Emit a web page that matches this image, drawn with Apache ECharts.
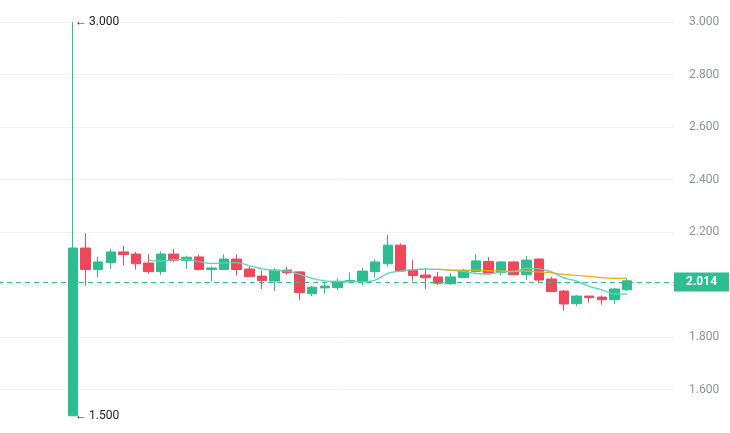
<!DOCTYPE html>
<html><head><meta charset="utf-8">
<script src="https://cdn.jsdelivr.net/npm/echarts@6/dist/echarts.min.js"></script>
<style>html,body{margin:0;padding:0;background:#fff}#c{width:730px;height:433px}</style>
</head><body><div id="c"></div>
<script>
const categories = Array.from({length: 45}, (_, i) => String(i + 1));
const opens  = [1.500,2.139,2.057,2.083,2.124,2.116,2.082,2.049,2.116,2.092,2.105,2.057,2.057,2.097,2.059,2.032,2.013,2.055,2.048,1.965,1.987,1.988,2.010,2.010,2.049,2.079,2.150,2.054,2.036,2.029,2.003,2.026,2.049,2.088,2.046,2.086,2.037,2.097,2.021,1.975,1.927,1.956,1.952,1.942,1.980];
const closes = [2.139,2.057,2.086,2.124,2.114,2.079,2.049,2.116,2.092,2.104,2.057,2.063,2.097,2.057,2.030,2.015,2.055,2.045,1.969,1.990,1.994,2.012,2.015,2.051,2.086,2.150,2.051,2.034,2.026,2.005,2.029,2.053,2.090,2.043,2.086,2.037,2.093,2.017,1.973,1.926,1.956,1.950,1.942,1.983,2.014];
const lows   = [1.500,1.995,2.027,2.059,2.073,2.057,2.041,2.037,2.086,2.059,2.054,2.011,2.057,2.034,2.030,1.983,1.974,2.037,1.941,1.956,1.964,1.979,2.010,1.998,2.026,2.068,2.051,2.013,1.983,1.998,1.999,2.026,2.045,2.039,2.035,2.037,2.017,2.005,1.973,1.900,1.917,1.931,1.923,1.926,1.975];
const highs  = [3.000,2.195,2.106,2.136,2.147,2.124,2.115,2.126,2.135,2.110,2.114,2.069,2.115,2.114,2.069,2.053,2.062,2.067,2.050,1.995,2.005,2.024,2.046,2.063,2.096,2.189,2.157,2.093,2.062,2.048,2.044,2.060,2.115,2.105,2.090,2.090,2.109,2.100,2.029,1.979,1.960,1.956,1.959,1.988,2.021];
const ma7 = [null,null,null,null,null,null,2.0926,2.0893,2.0943,2.0969,2.0873,2.0800,2.0826,2.0837,2.0714,2.0604,2.0534,2.0517,2.0383,2.0230,2.0140,2.0114,2.0114,2.0109,2.0167,2.0426,2.0513,2.0570,2.0590,2.0576,2.0544,2.0497,2.0411,2.0400,2.0474,2.0490,2.0616,2.0599,2.0484,2.0250,2.0126,1.9931,1.9796,1.9639,1.9634];
const ma30 = [null,null,null,null,null,null,null,null,null,null,null,null,null,null,null,null,null,null,null,null,null,null,null,null,null,null,null,null,null,2.0587,2.0551,2.0549,2.0551,2.0524,2.0514,2.0500,2.0515,2.0482,2.0442,2.0383,2.0349,2.0312,2.0260,2.0235,2.0230];
const lastPrice = 2.014;
const priceMin = 1.4, priceMax = 3.0, priceStep = 0.2;

const GREEN = '#2ebd8f', RED = '#f0485b';
const FONT = 'Roboto';
const candleData = categories.map((_, i) => [opens[i], closes[i], lows[i], highs[i]]);

const chart = echarts.init(document.getElementById('c'), null, {renderer: 'canvas'});
chart.setOption({
  animation: false,
  backgroundColor: '#ffffff',
  grid: [
    {left: -2, right: 56, top: 22, bottom: -9, outerBoundsMode: 'none', containLabel: false},
    {left: 66.7, right: 96.7, top: 22, bottom: -9, outerBoundsMode: 'none', containLabel: false}
  ],
  xAxis: [
    {type: 'value', gridIndex: 0, min: 0, max: 1, show: false},
    {type: 'category', gridIndex: 1, data: categories, boundaryGap: true, show: false}
  ],
  yAxis: [
    {
      type: 'value', gridIndex: 0, position: 'right', min: priceMin, max: priceMax, interval: priceStep,
      axisLine: {show: true, lineStyle: {color: '#f2f2f2'}},
      axisTick: {show: false},
      splitLine: {show: true, lineStyle: {color: '#f3f3f3', width: 1}},
      axisLabel: {
        show: true, margin: 15, color: '#8e9199', fontSize: 12, fontFamily: FONT,
        formatter: v => (Math.abs(v - priceMin) < 1e-9 ? '' : v.toFixed(3))
      }
    },
    {type: 'value', gridIndex: 1, min: priceMin, max: priceMax, show: false, splitLine: {show: false}}
  ],
  series: [
    {
      type: 'line', xAxisIndex: 0, yAxisIndex: 0,
      data: [[0, lastPrice], [1, lastPrice]],
      symbol: 'none', lineStyle: {opacity: 0}, silent: true,
      markLine: {
        silent: true, symbol: ['none', 'none'],
        lineStyle: {color: GREEN, type: [5, 4], width: 1},
        label: {
          show: true, position: 'end', distance: 0,
          backgroundColor: GREEN, color: '#fff', fontWeight: 'bold', fontSize: 12, fontFamily: FONT,
          padding: [4, 12, 3, 12], formatter: () => lastPrice.toFixed(3)
        },
        data: [{yAxis: lastPrice}]
      }
    },
    {
      type: 'candlestick', xAxisIndex: 1, yAxisIndex: 1,
      data: candleData, barWidth: 10,
      itemStyle: {color: GREEN, color0: RED, borderColor: GREEN, borderColor0: RED, borderWidth: 1},
      markPoint: {
        symbol: 'circle', symbolSize: 0.1, itemStyle: {color: 'rgba(0,0,0,0)'},
        label: {
          show: true, position: 'right', distance: 2, color: '#222', fontSize: 12, fontFamily: FONT,
          formatter: p => '{a|\u2190}{b|' + Number(p.value).toFixed(3) + '}',
          rich: {
            a: {fontFamily: 'Liberation Sans', fontSize: 12, color: '#222', padding: [0, 2, 0, 0]},
            b: {fontFamily: FONT, fontSize: 12, color: '#222'}
          }
        },
        data: [{type: 'max', valueDim: 'highest'}, {type: 'min', valueDim: 'lowest'}]
      }
    },
    {
      type: 'line', xAxisIndex: 1, yAxisIndex: 1, data: ma7, smooth: 0.3,
      showSymbol: false, symbol: 'none', lineStyle: {color: '#5ad3b6', width: 1.3}, silent: true
    },
    {
      type: 'line', xAxisIndex: 1, yAxisIndex: 1, data: ma30, smooth: 0.3,
      showSymbol: false, symbol: 'none', lineStyle: {color: '#f5aa0c', width: 1.3}, silent: true
    }
  ]
});
</script>
</body></html>
